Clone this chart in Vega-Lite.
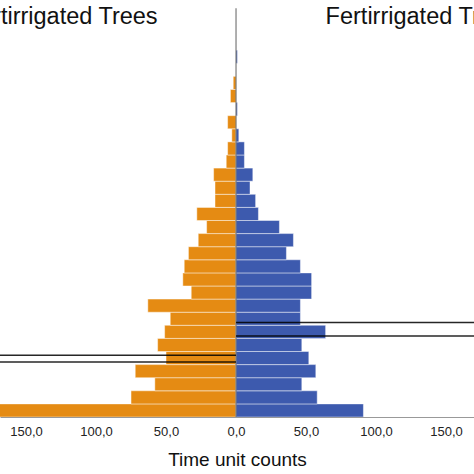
{
  "$schema": "https://vega.github.io/schema/vega-lite/v6.json",
  "width": 474,
  "height": 417,
  "autosize": {"type": "none"},
  "padding": {"left": 0, "top": 0, "right": 0, "bottom": 57},
  "background": "white",
  "config": {
    "view": {"stroke": null},
    "font": "Liberation Sans"
  },
  "datasets": {
    "counts": [
      {"bin": 0, "group": "Non-fertirrigated", "count": 180},
      {"bin": 1, "group": "Non-fertirrigated", "count": 75},
      {"bin": 2, "group": "Non-fertirrigated", "count": 58},
      {"bin": 3, "group": "Non-fertirrigated", "count": 72},
      {"bin": 4, "group": "Non-fertirrigated", "count": 50},
      {"bin": 5, "group": "Non-fertirrigated", "count": 56},
      {"bin": 6, "group": "Non-fertirrigated", "count": 51},
      {"bin": 7, "group": "Non-fertirrigated", "count": 47},
      {"bin": 8, "group": "Non-fertirrigated", "count": 63},
      {"bin": 9, "group": "Non-fertirrigated", "count": 32},
      {"bin": 10, "group": "Non-fertirrigated", "count": 38},
      {"bin": 11, "group": "Non-fertirrigated", "count": 37},
      {"bin": 12, "group": "Non-fertirrigated", "count": 34},
      {"bin": 13, "group": "Non-fertirrigated", "count": 27},
      {"bin": 14, "group": "Non-fertirrigated", "count": 21},
      {"bin": 15, "group": "Non-fertirrigated", "count": 28},
      {"bin": 16, "group": "Non-fertirrigated", "count": 15},
      {"bin": 17, "group": "Non-fertirrigated", "count": 15},
      {"bin": 18, "group": "Non-fertirrigated", "count": 16},
      {"bin": 19, "group": "Non-fertirrigated", "count": 7},
      {"bin": 20, "group": "Non-fertirrigated", "count": 6},
      {"bin": 21, "group": "Non-fertirrigated", "count": 3},
      {"bin": 22, "group": "Non-fertirrigated", "count": 6},
      {"bin": 24, "group": "Non-fertirrigated", "count": 4},
      {"bin": 25, "group": "Non-fertirrigated", "count": 2},
      {"bin": 0, "group": "Fertirrigated", "count": 91},
      {"bin": 1, "group": "Fertirrigated", "count": 58},
      {"bin": 2, "group": "Fertirrigated", "count": 47},
      {"bin": 3, "group": "Fertirrigated", "count": 57},
      {"bin": 4, "group": "Fertirrigated", "count": 52},
      {"bin": 5, "group": "Fertirrigated", "count": 47},
      {"bin": 6, "group": "Fertirrigated", "count": 64},
      {"bin": 7, "group": "Fertirrigated", "count": 46},
      {"bin": 8, "group": "Fertirrigated", "count": 46},
      {"bin": 9, "group": "Fertirrigated", "count": 54},
      {"bin": 10, "group": "Fertirrigated", "count": 54},
      {"bin": 11, "group": "Fertirrigated", "count": 46},
      {"bin": 12, "group": "Fertirrigated", "count": 36},
      {"bin": 13, "group": "Fertirrigated", "count": 41},
      {"bin": 14, "group": "Fertirrigated", "count": 31},
      {"bin": 15, "group": "Fertirrigated", "count": 16},
      {"bin": 16, "group": "Fertirrigated", "count": 14},
      {"bin": 17, "group": "Fertirrigated", "count": 10},
      {"bin": 18, "group": "Fertirrigated", "count": 12},
      {"bin": 19, "group": "Fertirrigated", "count": 6},
      {"bin": 20, "group": "Fertirrigated", "count": 6},
      {"bin": 21, "group": "Fertirrigated", "count": 2},
      {"bin": 23, "group": "Fertirrigated", "count": 1},
      {"bin": 27, "group": "Fertirrigated", "count": 1}
    ],
    "refs": [
      {"group": "Non-fertirrigated", "level": 4.2, "from": -200, "to": 0},
      {"group": "Non-fertirrigated", "level": 4.71, "from": -200, "to": 0},
      {"group": "Fertirrigated", "level": 6.18, "from": 0, "to": 200},
      {"group": "Fertirrigated", "level": 7.21, "from": 0, "to": 200}
    ]
  },
  "layer": [
    {
      "data": {"name": "counts"},
      "transform": [
        {"calculate": "datum.group == 'Fertirrigated' ? datum.count : -datum.count", "as": "signed"},
        {"calculate": "datum.bin + 1", "as": "bin_end"}
      ],
      "mark": {"type": "bar", "clip": true, "stroke": "white", "strokeOpacity": 0.45, "strokeWidth": 1},
      "encoding": {
        "x": {
          "field": "signed",
          "type": "quantitative",
          "scale": {"domain": [-168.6, 170], "nice": false, "zero": false},
          "axis": {
            "title": "Time unit counts",
            "values": [-150, -100, -50, 0, 50, 100, 150],
            "labelExpr": "replace(format(abs(datum.value), '.1f'), '.', ',')",
            "grid": false,
            "ticks": false,
            "tickSize": 0,
            "labelPadding": 8,
            "labelFontSize": 13,
            "labelColor": "#222222",
            "labelFont": "Liberation Sans",
            "titleFont": "Liberation Sans",
            "titleFontSize": 19,
            "titleFontWeight": "normal",
            "titleColor": "#111111",
            "titlePadding": 12,
            "domainColor": "#999999",
            "domainWidth": 1
          }
        },
        "x2": {"datum": 0},
        "y": {
          "field": "bin",
          "type": "quantitative",
          "scale": {"domain": [0, 31.83], "nice": false, "zero": false},
          "axis": null
        },
        "y2": {"field": "bin_end"},
        "color": {
          "field": "group",
          "type": "nominal",
          "scale": {"domain": ["Non-fertirrigated", "Fertirrigated"], "range": ["#E58B13", "#3D5AAE"]},
          "legend": null
        }
      }
    },
    {
      "data": {"values": [{"top": 31.2, "bottom": 0}]},
      "mark": {"type": "rule", "color": "#606060", "strokeWidth": 1},
      "encoding": {
        "x": {"datum": 0, "type": "quantitative"},
        "y": {"field": "bottom", "type": "quantitative"},
        "y2": {"field": "top"}
      }
    },
    {
      "data": {"name": "refs"},
      "mark": {"type": "rule", "color": "black", "strokeWidth": 1.6, "opacity": 0.85, "clip": true},
      "encoding": {
        "x": {"field": "from", "type": "quantitative"},
        "x2": {"field": "to"},
        "y": {"field": "level", "type": "quantitative"}
      }
    },
    {
      "data": {"values": [{"label": "Non-fertirrigated Trees", "pos": -56, "level": 30.5}]},
      "mark": {"type": "text", "clip": true, "align": "right", "baseline": "middle", "fontSize": 23.5, "font": "Liberation Sans", "color": "#111111"},
      "encoding": {
        "x": {"field": "pos", "type": "quantitative"},
        "y": {"field": "level", "type": "quantitative"},
        "text": {"field": "label"}
      }
    },
    {
      "data": {"values": [{"label": "Fertirrigated Trees", "pos": 64, "level": 30.5}]},
      "mark": {"type": "text", "clip": true, "align": "left", "baseline": "middle", "fontSize": 23.5, "font": "Liberation Sans", "color": "#111111"},
      "encoding": {
        "x": {"field": "pos", "type": "quantitative"},
        "y": {"field": "level", "type": "quantitative"},
        "text": {"field": "label"}
      }
    }
  ]
}
